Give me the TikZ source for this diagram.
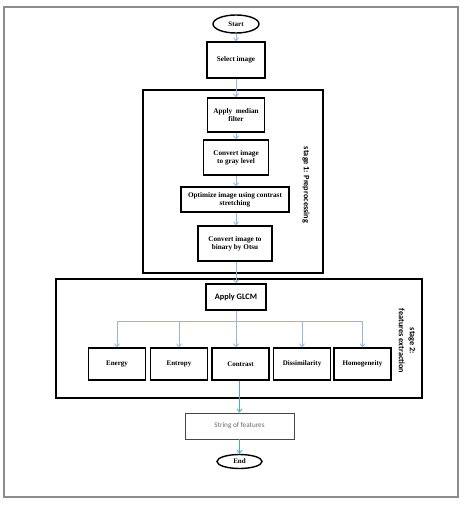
\documentclass[tikz,border=0pt]{standalone}
\usepackage{fontspec}
\setmainfont{Liberation Serif}
\newfontfamily\calib{Carlito}
\usetikzlibrary{shapes.geometric,arrows.meta}
\definecolor{flowblue}{RGB}{150,184,216}
\definecolor{cyanline}{RGB}{70,168,222}
\definecolor{framegray}{RGB}{140,140,140}
\definecolor{textgray}{RGB}{105,105,105}
\definecolor{edgegray}{RGB}{70,70,70}
\begin{document}
\begin{tikzpicture}[x=1pt,y=-1pt,
  procbox/.style={draw,line width=1.3pt,inner sep=0,align=center,font=\fontsize{7.2}{8.3}\selectfont\bfseries},
  featbox/.style={procbox,minimum width=57pt,minimum height=32pt,font=\fontsize{7}{8}\selectfont\bfseries},
  term/.style={draw,ellipse,line width=1.4pt,inner sep=0,font=\fontsize{7}{8}\selectfont\bfseries},
  stagebox/.style={draw,line width=2.4pt},
  flow/.style={draw=flowblue,line width=0.8pt,-{Straight Barb[length=3pt,width=5pt]}},
  stagelabel/.style={rotate=-90,align=center,font=\calib\fontsize{8.2}{11}\selectfont\bfseries}]
\useasboundingbox (0,0) rectangle (474,505);
\draw[framegray,line width=1.2pt] (4,7) rectangle (458,497);
\draw[stagebox] (143,90) rectangle (323,273);
\draw[stagebox] (56,279) rectangle (422,398);
\node[term,minimum width=46pt,minimum height=18pt] (start) at (236,24) {Start};
\node[procbox,minimum width=58pt,minimum height=36pt] (select) at (236,60) {Select image};
\node[procbox,minimum width=57pt,minimum height=34pt] (median) at (236,115) {Apply\ \ median\\filter};
\node[procbox,minimum width=65pt,minimum height=35pt] (gray) at (236,157.5) {Convert image\\to gray level};
\node[procbox,minimum width=108pt,minimum height=25pt] (stretch) at (235,199.5) {Optimize image using contrast\\stretching};
\node[procbox,minimum width=74pt,minimum height=35pt] (otsu) at (235,243.5) {Convert image to\\binary by Otsu};
\node[stagelabel] (stageone) at (306,185) {stage 1: Preprocessing};
\node[procbox,minimum width=60pt,minimum height=26pt,font=\calib\fontsize{8.3}{10}\selectfont\bfseries] (glcm) at (236,297) {Apply GLCM};
\coordinate (split) at (236,321);
\node[featbox] (energy) at (117,364) {Energy};
\node[featbox] (entropy) at (179,364) {Entropy};
\node[featbox] (contrast) at (240.5,364) {Contrast};
\node[featbox] (dissim) at (302,364) {Dissimilarity};
\node[featbox] (homog) at (362.5,364) {Homogeneity};
\node[stagelabel] (stagetwo) at (407,341) {stage 2:\\features extraction};
\node[draw=edgegray,line width=0.9pt,minimum width=109pt,minimum height=26pt,inner sep=0,text=textgray,font=\calib\fontsize{7.2}{9}\selectfont] (string) at (239.5,426) {String of features};
\node[term,minimum width=45pt,minimum height=14pt] (finish) at (239.5,461.5) {End};
\draw[flow] (start) -- (select);
\draw[flow] (select) -- (median);
\draw[flow] (median) -- (gray);
\draw[flow] (gray) -- (stretch.north -| gray);
\draw[flow] (stretch.south -| gray) -- (otsu.north -| gray);
\draw[flow] (otsu.south -| glcm) -- (glcm);
\draw[flowblue,line width=0.8pt] (glcm.south) -- (split);
\draw[flowblue,line width=0.8pt] (energy.north |- split) -- (homog.north |- split);
\draw[flow] (energy.north |- split) -- (energy.north);
\draw[flow] (entropy.north |- split) -- (entropy.north);
\draw[flow] (split) -- (split |- contrast.north);
\draw[flow] (dissim.north |- split) -- (dissim.north);
\draw[flow] (homog.north |- split) -- (homog.north);
\draw[flow,draw=cyanline] (contrast.south -| string) -- (string);
\draw[flow,draw=cyanline] (string) -- (finish);
\end{tikzpicture}
\end{document}
